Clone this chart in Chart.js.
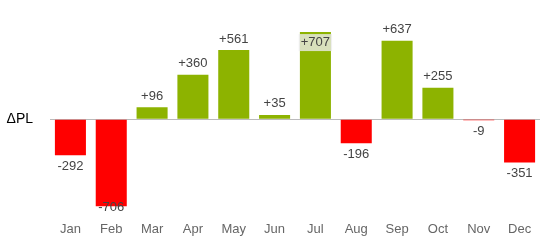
<!DOCTYPE html>
<html>
<head>
<meta charset="utf-8">
<script src="https://cdn.jsdelivr.net/npm/chart.js@4"></script>
<style>
  html, body { margin: 0; padding: 0; background: #fff; }
  #wrap { width: 552px; height: 245px; }
</style>
</head>
<body>
<div id="wrap"><canvas id="chart"></canvas></div>
<script>
const months = ['Jan', 'Feb', 'Mar', 'Apr', 'May', 'Jun', 'Jul', 'Aug', 'Sep', 'Oct', 'Nov', 'Dec'];
const deltaPL = [-292, -706, 96, 360, 561, 35, 707, -196, 637, 255, -9, -351];
const rowLabel = 'ΔPL';

const GREEN = '#8db300';
const RED = '#ff0000';

function fmt(v) {
  return (v > 0 ? '+' : '') + v;
}

// value labels above / below each bar
const valueLabels = {
  id: 'valueLabels',
  afterDatasetsDraw(chart) {
    const ctx = chart.ctx;
    const meta = chart.getDatasetMeta(0);
    const area = chart.chartArea;
    ctx.save();
    ctx.font = '13px "Liberation Sans", Arial, sans-serif';
    ctx.textAlign = 'center';
    ctx.textBaseline = 'middle';
    meta.data.forEach((bar, i) => {
      const v = deltaPL[i];
      const txt = fmt(v);
      let y;
      let boxed = false;
      if (v >= 0) {
        y = bar.y - 11;
        if (y < area.top) { // no room above, put it inside the bar
          y = bar.y + 10.5;
          boxed = true;
        }
      } else {
        y = Math.min(bar.y + 11, area.bottom - 2.5);
      }
      if (boxed) {
        const w = ctx.measureText(txt).width + 4;
        ctx.fillStyle = 'rgba(235,235,235,0.8)';
        ctx.fillRect(bar.x - w / 2, y - 8.5, w, 17);
      }
      ctx.fillStyle = '#444';
      ctx.fillText(txt, bar.x, y);
    });
    ctx.restore();
  }
};

new Chart(document.getElementById('chart'), {
  type: 'bar',
  data: {
    labels: months,
    datasets: [{
      label: rowLabel,
      data: deltaPL,
      backgroundColor: deltaPL.map(v => v >= 0 ? GREEN : RED),
      barPercentage: 0.76,
      categoryPercentage: 1
    }]
  },
  options: {
    responsive: true,
    maintainAspectRatio: false,
    animation: false,
    layout: { padding: { top: 28, bottom: 5, right: 12, left: 0 } },
    plugins: {
      legend: { display: false },
      tooltip: { enabled: false }
    },
    scales: {
      x: {
        grid: { display: false },
        border: { display: false },
        ticks: {
          color: '#666',
          font: { size: 13, family: '"Liberation Sans", Arial, sans-serif' },
          padding: 3
        }
      },
      y: {
        min: -740,
        max: 740,
        afterBuildTicks: scale => { scale.ticks = [{ value: 0 }]; },
        afterFit: scale => { scale.width = 50; },
        grid: { color: '#bbb', lineWidth: 1, drawTicks: false },
        border: { display: false },
        ticks: {
          color: '#000',
          padding: 17,
          font: { size: 14, family: '"Liberation Sans", Arial, sans-serif' },
          callback: () => rowLabel
        }
      }
    }
  },
  plugins: [valueLabels]
});
</script>
</body>
</html>
